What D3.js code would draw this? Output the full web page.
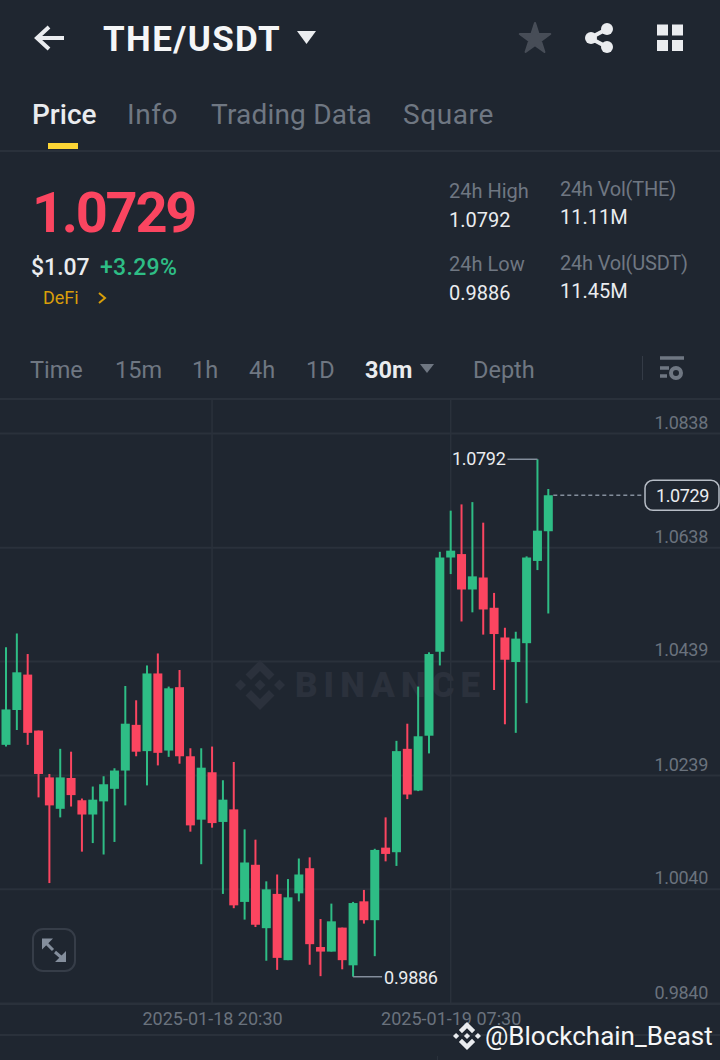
<!DOCTYPE html>
<html lang="en">
<head>
<meta charset="utf-8">
<title>THE/USDT</title>
<script src="https://d3js.org/d3.v7.min.js"></script>
<style>
  html, body { margin: 0; padding: 0; background: #1f2630; }
  svg { display: block; }
  text { font-family: Roboto, "Noto Sans", sans-serif; }
</style>
</head>
<body>
<svg></svg>
<script>
// candles, left to right
const opens = [1.0292,1.0353,1.0415,1.0317,1.0235,1.0180,1.0234,1.0195,1.0170,1.0193,1.0215,1.0247,1.0327,1.0281,1.0417,1.0282,1.0393,
  1.0272,1.0161,1.0244,1.0157,1.0179,1.0017,1.0082,0.9971,1.0031,0.9915,1.0032,1.0076,0.9938,0.9930,0.9972,0.9906,1.0018,
  0.9985,1.0112,1.0104,1.0285,1.0212,1.0308,1.0455,1.0620,1.0626,1.0564,1.0585,1.0532,1.0480,1.0437,1.0470,1.0614,1.0666]
const highs = [1.0463,1.0487,1.0451,1.0317,1.0241,1.0285,1.0280,1.0198,1.0219,1.0237,1.0251,1.0395,1.0370,1.0431,1.0452,1.0394,1.0423,
  1.0286,1.0286,1.0289,1.0230,1.0262,1.0144,1.0126,1.0053,1.0065,1.0057,1.0093,1.0095,0.9987,1.0014,0.9972,1.0017,1.0038,
  1.0110,1.0165,1.0299,1.0329,1.0394,1.0454,1.0630,1.0702,1.0713,1.0717,1.0681,1.0558,1.0497,1.0490,1.0622,1.0792,1.0740]
const lows = [1.0289,1.0318,1.0292,1.0200,1.0050,1.0165,1.0184,1.0105,1.0120,1.0100,1.0122,1.0186,1.0272,1.0221,1.0256,1.0271,1.0259,
  1.0140,1.0083,1.0147,1.0031,1.0006,0.9986,0.9973,0.9914,0.9898,0.9915,1.0018,0.9907,0.9887,0.9930,0.9899,0.9886,0.9979,
  0.9922,1.0088,1.0080,1.0197,1.0211,1.0277,1.0431,1.0591,1.0508,1.0524,1.0485,1.0388,1.0328,1.0313,1.0365,1.0598,1.0522]
const closes = [1.0354,1.0419,1.0313,1.0241,1.0186,1.0235,1.0204,1.0170,1.0196,1.0223,1.0247,1.0329,1.0280,1.0417,1.0278,1.0391,1.0272,
  1.0151,1.0252,1.0155,1.0196,1.0011,1.0086,0.9977,1.0039,0.9919,1.0025,1.0065,0.9943,0.9930,0.9983,0.9915,1.0015,0.9985,
  1.0108,1.0101,1.0281,1.0205,1.0307,1.0451,1.0620,1.0632,1.0564,1.0587,1.0529,1.0486,1.0441,1.0478,1.0620,1.0667,1.0729]

const priceTicks = [1.0838, 1.0638, 1.0439, 1.0239, 1.0040, 0.9840]
const timeTicks = [19, 41]
const timeLabels = ['2025-01-18 20:30', '2025-01-19 07:30']
const lastPrice = 1.0729
const highPrice = 1.0792
const lowPrice = 0.9886

const tabs = ['Price', 'Info', 'Trading Data', 'Square']
const tabX = [32, 127, 211, 403]
const intervals = ['Time', '15m', '1h', '4h', '1D', '30m', 'Depth']
const intervalX = [30, 115, 192, 249, 306, 365, 473]

const white = '#eaecef', gray = '#6f7782', axisGray = '#6a727d', gridColor = '#2a313b'
const red = '#fb4560', green = '#2ebd85'

const svg = d3.select('svg').attr('width', 720).attr('height', 1060)

function label(x, y, str, size, fill, weight, anchor) {
  return svg.append('text').attr('x', x).attr('y', y).text(str)
    .attr('font-size', size).attr('fill', fill)
    .attr('font-weight', weight || 400)
    .attr('text-anchor', anchor || 'start')
}

// the exchange logo, r is half of its width
function logo(cx, cy, r, fill) {
  const g = svg.append('g').attr('transform', `translate(${cx},${cy}) scale(${r})`).attr('fill', fill)
  g.append('path').attr('d', 'M0 -.22L.22 0L0 .22L-.22 0Z')
  g.append('path').attr('d', 'M.78 -.22L1 0L.78 .22L.56 0Z')
  g.append('path').attr('d', 'M-.78 -.22L-.56 0L-.78 .22L-1 0Z')
  g.append('path').attr('d', 'M0 -1L.58 -.42L.36 -.2L0 -.56L-.36 -.2L-.58 -.42Z')
  g.append('path').attr('d', 'M0 1L.58 .42L.36 .2L0 .56L-.36 .2L-.58 .42Z')
}

// background
svg.append('rect').attr('width', 720).attr('height', 1060).attr('fill', '#1f2630')

// header
svg.append('path').attr('d', 'M64 38H38M49 27L37 38L49 49')
  .attr('fill', 'none').attr('stroke', white).attr('stroke-width', 4)
label(103, 51, 'THE/USDT', 35, '#f5f6f7', 700).attr('letter-spacing', 1.4)
svg.append('path').attr('d', 'M297 31H316L306.500 44Z').attr('fill', white)
svg.append('path').attr('d', d3.symbol(d3.symbolStar, 290)())
  .attr('transform', 'translate(535,39)').attr('fill', '#474d57')
  .attr('stroke', '#474d57').attr('stroke-width', 2).attr('stroke-linejoin', 'round')
// share icon
svg.append('path').attr('d', 'M607 29L590 38L607 47').attr('fill', 'none').attr('stroke', white).attr('stroke-width', 4)
svg.selectAll('.share').data([[607, 29], [591, 38], [607, 47]]).join('circle')
  .attr('cx', d => d[0]).attr('cy', d => d[1]).attr('r', 6).attr('fill', white)
// grid icon
svg.selectAll('.cell').data([[657, 24.500], [672, 24.500], [657, 40], [672, 40]]).join('rect')
  .attr('x', d => d[0]).attr('y', d => d[1]).attr('width', 11).attr('height', 11).attr('fill', white)

// tabs
tabs.forEach((t, i) => label(tabX[i], 124, t, 28, i == 0 ? white : gray, i == 0 ? 500 : 400)
  .attr('letter-spacing', t == 'Trading Data' ? 0.2 : t == 'Price' ? 0 : 0.6))
svg.append('rect').attr('x', 48).attr('y', 143).attr('width', 30).attr('height', 6).attr('fill', '#fcd535')
svg.append('rect').attr('x', 0).attr('y', 150).attr('width', 720).attr('height', 2).attr('fill', gridColor)

// price block
label(32, 232, '1.0729', 56, red, 700).attr('letter-spacing', -2.300)
label(31, 275, '$1.07', 23, white, 500)
label(100, 275, '+3.29%', 23, green, 500).attr('letter-spacing', 0.3)
label(43, 304, 'DeFi', 18, '#d89e0a')
svg.append('path').attr('d', 'M99 293L105 298L99 303').attr('fill', 'none').attr('stroke', '#d89e0a').attr('stroke-width', 2)

label(449, 198, '24h High', 20, gray)
label(449, 227, '1.0792', 20, white)
label(449, 271, '24h Low', 20, gray)
label(449, 300, '0.9886', 20, white)
label(560, 196, '24h Vol(THE)', 20, gray).attr('letter-spacing', -0.2)
label(560, 224, '11.11M', 20, white)
label(560, 270, '24h Vol(USDT)', 20, gray).attr('letter-spacing', -0.2)
label(560, 298, '11.45M', 20, white)

// interval bar
intervals.forEach((t, i) => label(intervalX[i], 378, t, 23.500, t == '30m' ? white : gray, t == '30m' ? 700 : 400))
svg.append('path').attr('d', 'M420 364H434L427 373Z').attr('fill', gray)
svg.append('rect').attr('x', 642).attr('y', 356).attr('width', 1).attr('height', 24).attr('fill', '#343b46')
svg.append('path').attr('d', 'M660 358H684M660 368H669M660 376H667').attr('stroke', gray).attr('stroke-width', 3.500)
svg.append('circle').attr('cx', 676).attr('cy', 373).attr('r', 5).attr('fill', 'none').attr('stroke', gray).attr('stroke-width', 4)
svg.append('rect').attr('x', 0).attr('y', 398).attr('width', 720).attr('height', 2).attr('fill', gridColor)

// scales
const y = d3.scaleLinear().domain([0.9840, 1.0838]).range([1003, 433])
const x = d3.scaleLinear().domain([0, closes.length - 1]).range([6, 548.3])

// price axis, with the ticks used as the horizontal grid
const yAxis = svg.append('g')
  .attr('transform', 'translate(720,0)')
  .call(d3.axisLeft(y).tickValues(priceTicks).tickSize(720).tickFormat(d3.format('.4f')))
yAxis.select('.domain').remove()
yAxis.selectAll('line').attr('stroke', gridColor).attr('stroke-width', 2)
yAxis.selectAll('text').attr('x', -12).attr('dy', -5)
  .attr('text-anchor', 'end').attr('font-size', 18).attr('letter-spacing', -0.3).attr('fill', axisGray)
  .style('font-family', 'Roboto')

// time axis, ticks go up as the vertical grid
const xAxis = svg.append('g')
  .attr('transform', 'translate(0,1004)')
  .call(d3.axisBottom(x).tickValues(timeTicks).tickSize(0).tickFormat((d, i) => timeLabels[i]))
xAxis.select('.domain').remove()
xAxis.selectAll('text').attr('y', 21).attr('dy', 0).attr('font-size', 18).attr('fill', axisGray)
  .style('font-family', 'Roboto')
svg.selectAll('.vgrid').data(timeTicks).join('line')
  .attr('x1', d => x(d)).attr('x2', d => x(d)).attr('y1', 400).attr('y2', 1004)
  .attr('stroke', gridColor).attr('stroke-width', 1.500)
svg.append('rect').attr('x', 0).attr('y', 1003).attr('width', 720).attr('height', 2).attr('fill', gridColor)
svg.append('rect').attr('x', 0).attr('y', 1034).attr('width', 720).attr('height', 2).attr('fill', gridColor)

// watermark behind the candles
logo(260, 685, 25, '#2b313c')
label(295, 697, 'BINANCE', 35, '#2b313c', 900).attr('letter-spacing', 6)

// candles
const idx = d3.range(closes.length)
const color = i => closes[i] >= opens[i] ? green : red

svg.append('g').selectAll('line').data(idx).join('line')
  .attr('x1', x).attr('x2', x)
  .attr('y1', i => y(highs[i])).attr('y2', i => y(lows[i]))
  .attr('stroke', color).attr('stroke-width', 2)

svg.append('g').selectAll('rect').data(idx).join('rect')
  .attr('x', i => x(i) - 4.500).attr('width', 9)
  .attr('y', i => y(Math.max(opens[i], closes[i])))
  .attr('height', i => Math.max(3, Math.abs(y(opens[i]) - y(closes[i]))))
  .attr('fill', color)

// high and low markers
const highIdx = highs.indexOf(highPrice), lowIdx = lows.indexOf(lowPrice)
svg.append('line').attr('x1', x(highIdx)).attr('x2', x(highIdx) - 30).attr('y1', y(highPrice)).attr('y2', y(highPrice))
  .attr('stroke', '#848e9c').attr('stroke-width', 1.500)
label(x(highIdx) - 32, y(highPrice) + 6, d3.format('.4f')(highPrice), 18, white, 400, 'end').attr('letter-spacing', -0.3)
svg.append('line').attr('x1', x(lowIdx)).attr('x2', x(lowIdx) + 29).attr('y1', y(lowPrice)).attr('y2', y(lowPrice))
  .attr('stroke', '#848e9c').attr('stroke-width', 1.500)
label(x(lowIdx) + 31, y(lowPrice) + 7, d3.format('.4f')(lowPrice), 18, white).attr('letter-spacing', -0.3)

// last price line and tag
svg.append('line').attr('x1', x(closes.length - 1) + 5).attr('x2', 644).attr('y1', y(lastPrice)).attr('y2', y(lastPrice))
  .attr('stroke', '#848e9c').attr('stroke-width', 1.500).attr('stroke-dasharray', '4 3')
svg.append('rect').attr('x', 645).attr('y', y(lastPrice) - 15).attr('width', 74).attr('height', 30).attr('rx', 8)
  .attr('fill', '#1f2630').attr('stroke', '#b7bdc6').attr('stroke-width', 1.500)
label(682.500, y(lastPrice) + 7, d3.format('.4f')(lastPrice), 18, white, 400, 'middle').attr('letter-spacing', -0.4)

// expand button
svg.append('rect').attr('x', 33).attr('y', 929).attr('width', 42).attr('height', 42).attr('rx', 10)
  .attr('fill', 'none').attr('stroke', '#363d48').attr('stroke-width', 2)
svg.append('path').attr('d', 'M42 938.500H53L42 949.500ZM66 962H55L66 951Z').attr('fill', '#848e9c')
svg.append('path').attr('d', 'M46 943L53 950M55 952L62 958').attr('stroke', '#848e9c').attr('stroke-width', 3)

// footer credit
logo(467, 1036, 14, '#eaecef')
label(485, 1045, '@Blockchain_Beast', 26, '#f5f6f7')
svg.append('rect').attr('x', 437).attr('y', 1056).attr('width', 1).attr('height', 4).attr('fill', gridColor)
</script>
</body>
</html>
